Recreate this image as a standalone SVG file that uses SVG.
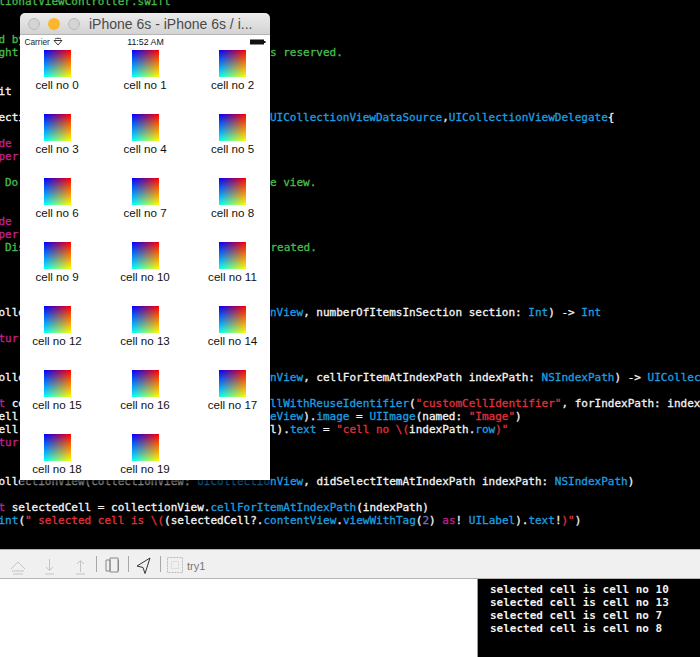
<svg xmlns="http://www.w3.org/2000/svg" width="700" height="657" viewBox="0 0 700 657">
<style>
.c{font-family:"DejaVu Sans Mono","Liberation Mono",monospace;font-size:11px;fill:#f4f4f4;stroke:#f4f4f4;stroke-width:.3;white-space:pre}
.g{fill:#46bd4a;stroke:#46bd4a}.k{fill:#c0208f;stroke:#c0208f}.b{fill:#1c9fe0;stroke:#1c9fe0}.s{fill:#e0303c;stroke:#e0303c}.n{fill:#786dc4;stroke:#786dc4}
.con{font-family:"DejaVu Sans Mono","Liberation Mono",monospace;font-size:11px;font-weight:bold;fill:#f2f2f2}
.l{font-family:"Liberation Sans",Arial,sans-serif;font-size:11.6px;fill:#111;text-anchor:middle}
.tb{fill:none;stroke:#c4c4c4;stroke-width:1}
.dv{stroke:#a8a8a8;stroke-width:1}
.screen{mix-blend-mode:screen}
</style>
<defs>
<linearGradient id="h"><stop offset="0" stop-color="#0000ff"/><stop offset="1" stop-color="#ff0000"/></linearGradient>
<linearGradient id="v" x2="0" y2="1"><stop offset="0" stop-color="#000"/><stop offset="1" stop-color="#0f0"/></linearGradient>
<linearGradient id="ttl" x2="0" y2="1"><stop offset="0" stop-color="#ececec"/><stop offset="1" stop-color="#d2d2d2"/></linearGradient>
<linearGradient id="shd" x2="0" y2="1"><stop offset="0" stop-color="#000" stop-opacity=".75"/><stop offset="1" stop-color="#000" stop-opacity="0"/></linearGradient>
<g id="sw" style="isolation:isolate"><rect width="27" height="27" fill="url(#h)"/><rect class="screen" width="27" height="27" fill="url(#v)"/></g>
</defs>
<rect id="editor" width="700" height="549" fill="#000"/>
<g id="code">
<text class="c g" x="-1.5" y="5">tionalViewController.swift</text>
<text class="c g" x="-1.5" y="43">d by</text>
<text class="c g" x="-1.5" y="56">ght</text>
<text class="c" x="-1.5" y="95">it</text>
<text class="c" x="-1.5" y="121">ecti</text>
<text class="c k" x="-1.5" y="147">de</text>
<text class="c k" x="-1.5" y="160">per.</text>
<text class="c g" x="5" y="186">Do</text>
<text class="c k" x="-1.5" y="225">de</text>
<text class="c k" x="-1.5" y="238">per.</text>
<text class="c g" x="5" y="251">Dis</text>
<text class="c" x="-1.5" y="316">olle</text>
<text class="c k" x="-1.5" y="342">tur</text>
<text class="c" x="-1.5" y="381">olle</text>
<text class="c" x="-1.5" y="407"><tspan class="k">t</tspan> ce</text>
<text class="c" x="-1.5" y="420">ell.</text>
<text class="c" x="-1.5" y="433">ell.</text>
<text class="c k" x="-1.5" y="446">tur</text>
<text class="c g" x="270" y="56">s reserved.</text>
<text class="c" x="270" y="121"><tspan class="b">UICollectionViewDataSource</tspan>,<tspan class="b">UICollectionViewDelegate</tspan>{</text>
<text class="c g" x="270" y="186">e view.</text>
<text class="c g" x="270.500" y="251">reated.</text>
<text class="c" x="270" y="316"><tspan class="b">nView</tspan>, numberOfItemsInSection section: <tspan class="b">Int</tspan>) -&gt; <tspan class="b">Int</tspan></text>
<text class="c" x="270" y="381"><tspan class="b">nView</tspan>, cellForItemAtIndexPath indexPath: <tspan class="b">NSIndexPath</tspan>) -&gt; <tspan class="b">UICollec</tspan></text>
<text class="c" x="270" y="407"><tspan class="b">llWithReuseIdentifier</tspan>(<tspan class="s">"customCellIdentifier"</tspan>, forIndexPath: index</text>
<text class="c" x="270" y="420"><tspan class="b">eView</tspan>).<tspan class="b">image</tspan> = <tspan class="b">UIImage</tspan>(named: <tspan class="s">"Image"</tspan>)</text>
<text class="c" x="270" y="433">l).<tspan class="b">text</tspan> = <tspan class="s">"cell no \(</tspan>indexPath.<tspan class="b">row</tspan><tspan class="s">)"</tspan></text>
<text class="c" x="-1.5" y="485">ollectionView(collectionView: <tspan class="b">UICollectionView</tspan>, didSelectItemAtIndexPath indexPath: <tspan class="b">NSIndexPath</tspan>)</text>
<text class="c" x="-1.5" y="511"><tspan class="k">t</tspan> selectedCell = collectionView.<tspan class="b">cellForItemAtIndexPath</tspan>(indexPath)</text>
<text class="c" x="-1.500" y="524"><tspan class="b">int</tspan>(<tspan class="s">" selected cell is \(</tspan>(selectedCell?.<tspan class="b">contentView</tspan>.<tspan class="b">viewWithTag</tspan>(<tspan class="n">2</tspan>) <tspan class="k">as</tspan>! <tspan class="b">UILabel</tspan>).<tspan class="b">text</tspan>!<tspan class="s">)"</tspan>)</text>
</g>
<rect x="20" y="480" width="250" height="12" fill="url(#shd)"/>
<g id="simulator">
<path d="M20 35V18a5 5 0 0 1 5-5H265a5 5 0 0 1 5 5V35Z" fill="url(#ttl)"/>
<rect x="20" y="35" width="250" height="445" fill="#fff"/>
<line x1="20" y1="34.500" x2="270" y2="34.500" stroke="#b4b4b4"/>
<circle cx="34" cy="24" r="5.500" fill="#d4d4d4" stroke="#bbb"/>
<circle cx="54" cy="24" r="6" fill="#fbb62c"/>
<circle cx="74" cy="24" r="5.500" fill="#d4d4d4" stroke="#bbb"/>
<text x="89" y="29" font-family="'Liberation Sans',Arial,sans-serif" font-size="14" fill="#4a4a4a">iPhone 6s - iPhone 6s / i...</text>
<text x="24.500" y="45" font-family="'Liberation Sans',Arial,sans-serif" font-size="8.300" fill="#222">Carrier</text>
<path d="M54 40.500h8l-4 4.500Z M55 39c2-1 4-1 6 0" fill="none" stroke="#222" stroke-width=".9"/>
<text x="145.500" y="45" font-family="'Liberation Sans',Arial,sans-serif" font-size="8.800" fill="#111" text-anchor="middle">11:52 AM</text>
<rect x="250" y="39.500" width="14" height="5" fill="#111"/><rect x="264" y="41" width="1.500" height="2" fill="#111"/>
</g>
<g id="cell-0"><use href="#sw" x="44" y="50"/><text class="l" x="57" y="88.500">cell no 0</text></g>
<g id="cell-1"><use href="#sw" x="132" y="50"/><text class="l" x="145" y="88.500">cell no 1</text></g>
<g id="cell-2"><use href="#sw" x="219" y="50"/><text class="l" x="232.500" y="88.500">cell no 2</text></g>
<g id="cell-3"><use href="#sw" x="44" y="114"/><text class="l" x="57" y="152.500">cell no 3</text></g>
<g id="cell-4"><use href="#sw" x="132" y="114"/><text class="l" x="145" y="152.500">cell no 4</text></g>
<g id="cell-5"><use href="#sw" x="219" y="114"/><text class="l" x="232.500" y="152.500">cell no 5</text></g>
<g id="cell-6"><use href="#sw" x="44" y="178"/><text class="l" x="57" y="216.500">cell no 6</text></g>
<g id="cell-7"><use href="#sw" x="132" y="178"/><text class="l" x="145" y="216.500">cell no 7</text></g>
<g id="cell-8"><use href="#sw" x="219" y="178"/><text class="l" x="232.500" y="216.500">cell no 8</text></g>
<g id="cell-9"><use href="#sw" x="44" y="242"/><text class="l" x="57" y="280.500">cell no 9</text></g>
<g id="cell-10"><use href="#sw" x="132" y="242"/><text class="l" x="145" y="280.500">cell no 10</text></g>
<g id="cell-11"><use href="#sw" x="219" y="242"/><text class="l" x="232.500" y="280.500">cell no 11</text></g>
<g id="cell-12"><use href="#sw" x="44" y="306"/><text class="l" x="57" y="344.500">cell no 12</text></g>
<g id="cell-13"><use href="#sw" x="132" y="306"/><text class="l" x="145" y="344.500">cell no 13</text></g>
<g id="cell-14"><use href="#sw" x="219" y="306"/><text class="l" x="232.500" y="344.500">cell no 14</text></g>
<g id="cell-15"><use href="#sw" x="44" y="370"/><text class="l" x="57" y="408.500">cell no 15</text></g>
<g id="cell-16"><use href="#sw" x="132" y="370"/><text class="l" x="145" y="408.500">cell no 16</text></g>
<g id="cell-17"><use href="#sw" x="219" y="370"/><text class="l" x="232.500" y="408.500">cell no 17</text></g>
<g id="cell-18"><use href="#sw" x="44" y="434"/><text class="l" x="57" y="472.500">cell no 18</text></g>
<g id="cell-19"><use href="#sw" x="132" y="434"/><text class="l" x="145" y="472.500">cell no 19</text></g>
<g id="toolbar">
<rect y="549" width="700" height="30" fill="#f0f0f0"/>
<line x2="700" y1="549.500" y2="549.500" stroke="#b0b0b0"/>
<line x2="700" y1="578.500" y2="578.500" stroke="#b4b4b4"/>
<path class="tb" d="M11 569l7-7 7 7M12 571h12M13 574h10"/>
<path class="tb" d="M49.500 559v11M46 567l3.500 3.500 3.500-3.500M45 574h9"/>
<path class="tb" d="M80.500 572v-11M77 564l3.500-3.500 3.500 3.500M76 574h9"/>
<line class="dv" x1="96.500" y1="556" x2="96.500" y2="572"/>
<path d="M106 560h4v11h-4ZM110 558h8v14h-8ZM118 560h0.500v11" fill="none" stroke="#888"/>
<line class="dv" x1="128.500" y1="556" x2="128.500" y2="572"/>
<path d="M150 558l-13 8 6 1.500 2 6Z" fill="none" stroke="#333"/>
<line class="dv" x1="160.500" y1="556" x2="160.500" y2="572"/>
<rect x="167.500" y="557.500" width="15" height="15" fill="none" stroke="#bbb" stroke-dasharray="2 1"/>
<rect x="171.500" y="561.500" width="7" height="7" fill="none" stroke="#ccc" stroke-dasharray="1 1"/>
<text x="187" y="570" font-family="'Liberation Sans',Arial,sans-serif" font-size="11" fill="#777">try1</text>
</g>
<rect id="variables" y="579" width="478" height="78" fill="#fff"/>
<g id="console">
<rect x="478" y="579" width="222" height="78" fill="#000"/>
<line x1="477.500" y1="579" x2="477.500" y2="657" stroke="#999"/>
<text class="con" x="490" y="593">selected cell is cell no 10</text>
<text class="con" x="490" y="606">selected cell is cell no 13</text>
<text class="con" x="490" y="619">selected cell is cell no 7</text>
<text class="con" x="490" y="632">selected cell is cell no 8</text>
</g>
</svg>
